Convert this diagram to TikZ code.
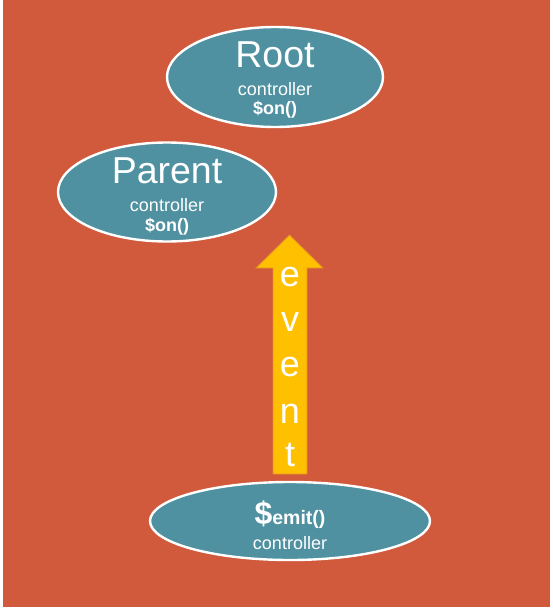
\documentclass[tikz,border=0pt]{standalone}
\usepackage{fontspec}
\setmainfont{Liberation Sans}
\usetikzlibrary{shapes.geometric}
\definecolor{bgred}{RGB}{209,90,61}
\definecolor{ctrlteal}{RGB}{79,145,160}
\definecolor{evyellow}{RGB}{255,192,0}
\definecolor{evedge}{RGB}{230,140,40}
\newcommand{\fs}[1]{\fontsize{#1}{#1}\selectfont}

\begin{document}
\begin{tikzpicture}[x=1pt, y=-1pt, line width=2.4pt,
    ctrl/.style={ellipse, draw=white, fill=ctrlteal, inner sep=0pt},
    txt/.style={text=white, inner sep=0pt},
    evletter/.style={text=white, inner sep=0pt, font=\fs{36}}]
    \useasboundingbox (0,0) rectangle (553,610);
    % Hintergrund.
    \fill[white] (0,0) rectangle (553,610);
    \fill[bgred] (3,0) rectangle (550,607);

    % Controller.
    \node[ctrl, minimum width=216pt, minimum height=100pt] (root) at (275,77) {};
    \node[ctrl, minimum width=218pt, minimum height=99pt] (parent) at (167,192) {};
    \node[ctrl, minimum width=280pt, minimum height=78pt] (child) at (290,521) {};

    % Beschriftung.
    \node[txt, font=\fs{37.5}] (roottitle) at (275,55) {Root};
    \node[txt, font=\fs{18}] (rootctrl) at (275,89) {controller};
    \node[txt, font=\fs{18}\bfseries] (rooton) at (275,110) {\$on()};

    \node[txt, font=\fs{37.5}] (parenttitle) at (167,171) {Parent};
    \node[txt, font=\fs{18}] (parentctrl) at (167,205) {controller};
    \node[txt, font=\fs{18}\bfseries] (parenton) at (167,227) {\$on()};

    \node[txt, font=\bfseries, anchor=base] (childemit) at (290,524)
        {{\fs{32}\$}{\fs{19.5}emit()}};
    \node[txt, font=\fs{18}] (childctrl) at (290,543) {controller};

    % Pfeil.
    \filldraw[fill=evyellow, draw=evedge, line width=.8pt]
        (273,474) -- (273,268) -- (256,268) -- (289.5,235) -- (323,268)
        -- (307,268) -- (307,474) -- cycle;
    \foreach \c/\y [count=\i] in {e/277,v/322,e/367,n/414,t/455}
    {
        \node[evletter] (ev\i) at (290,\y) {\c};
    }
\end{tikzpicture}
\end{document}
